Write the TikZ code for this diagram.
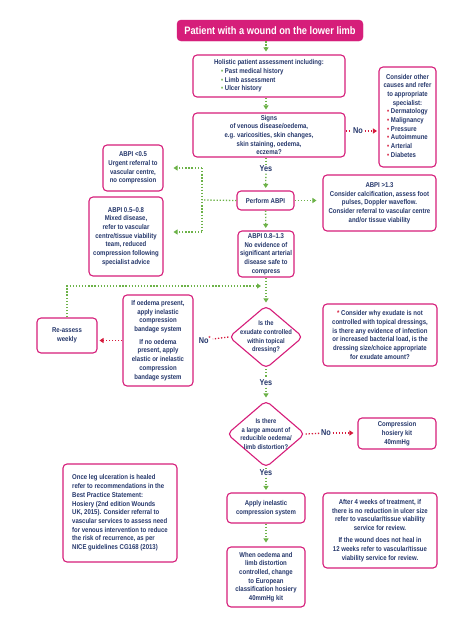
\documentclass[tikz,border=0pt]{standalone}
\usepackage{fontspec}
\setmainfont{Liberation Sans}[FakeStretch=0.86]
\usetikzlibrary{arrows.meta,shapes.geometric}
\definecolor{mag}{RGB}{214,30,122}
\definecolor{navy}{RGB}{38,56,108}
\definecolor{grn}{RGB}{108,178,72}
\definecolor{redd}{RGB}{214,26,60}
\newcommand{\gb}{{\color{grn}\textbullet}\ }
\newcommand{\rb}{{\color{redd}\textbullet}\ }
\tikzset{
  txtfont/.style={font=\bfseries\fontsize{7}{8.7}\selectfont},
  box/.style={draw=mag, line width=1.1pt, rounded corners=4pt, fill=white,
    text=navy, txtfont, align=center, inner sep=0pt},
  dia/.style={draw=mag, line width=1.1pt, diamond, rounded corners=5pt,
    fill=white, inner sep=0pt},
  diatext/.style={text=navy, font=\bfseries\fontsize{6.8}{8.6}\selectfont, align=center, inner sep=0pt},
  title/.style={fill=mag, draw=mag, rounded corners=4pt, text=white,
    font=\bfseries\fontsize{10.8}{12}\selectfont, inner sep=0pt},
  gline/.style={draw=grn, line width=1.3pt, dash pattern=on 1.3pt off 1.8pt},
  garr/.style={gline, -{Triangle[length=4pt,width=5pt]}, shorten >=2.5pt},
  rline/.style={draw=redd, line width=1.3pt, dash pattern=on 1.3pt off 1.8pt},
  rarr/.style={rline, -{Triangle[length=4pt,width=5pt]}, shorten >=2pt},
  lbl/.style={text=navy, font=\bfseries\fontsize{8.5}{10}\selectfont, inner sep=1.5pt}
}
\begin{document}
\begin{tikzpicture}[x=1pt,y=-1pt]
\useasboundingbox[fill=white] (0,0) rectangle (474,627);

% main column
\node[title, minimum width=186pt, minimum height=21pt] (title) at (270,30.5)
  {Patient with a wound on the lower limb};
\node[box, minimum width=152pt, minimum height=42pt] (hol) at (269,76)
  {\begin{tabular}{@{}l@{}}Holistic patient assessment including:\\
  \hspace{7pt}\gb Past medical history\\
  \hspace{7pt}\gb Limb assessment\\
  \hspace{7pt}\gb Ulcer history\end{tabular}};
\node[box, minimum width=152pt, minimum height=44pt] (signs) at (269,135)
  {Signs\\of venous disease/oedema,\\e.g. varicosities, skin changes,\\skin staining, oedema,\\eczema?};
\node[box, minimum width=57pt, minimum height=100pt] (other) at (407.5,117)
  {Consider other\\causes and refer\\to appropriate\\specialist:\\
  \begin{tabular}{@{}l@{}}\rb Dermatology\\\rb Malignancy\\\rb Pressure\\\rb Autoimmune\\\rb Arterial\\\rb Diabetes\end{tabular}};
\node[box, minimum width=57pt, minimum height=19pt] (perform) at (265.5,200.5)
  {Perform ABPI};
\node[box, minimum width=113pt, minimum height=56pt] (abpi13) at (379.5,203)
  {ABPI >1.3\\Consider calcification, assess foot\\pulses, Doppler waveflow.\\Consider referral to vascular centre\\and/or tissue viability};
\node[box, minimum width=60pt, minimum height=46pt] (abpi05) at (133,168)
  {ABPI <0.5\\Urgent referral to\\vascular centre,\\no compression};
\node[box, minimum width=74pt, minimum height=79pt] (abpi058) at (126,236.5)
  {ABPI 0.5–0.8\\Mixed disease,\\refer to vascular\\centre/tissue viability\\team, reduced\\compression following\\specialist advice};
\node[box, minimum width=56pt, minimum height=46pt] (abpi0813) at (266,254)
  {ABPI 0.8–1.3\\No evidence of\\significant arterial\\disease safe to\\compress};

\node[box, minimum width=60pt, minimum height=35pt] (reassess) at (67,335.5)
  {Re-assess\\weekly};
\node[box, minimum width=70pt, minimum height=91pt] (bandage) at (158,340.5)
  {If oedema present,\\apply inelastic\\compression\\bandage system\\[3.9pt]If no oedema\\present, apply\\elastic or inelastic\\compression\\bandage system};
\node[dia, minimum width=74pt, minimum height=63pt,
  label={[diatext]center:Is the\\exudate controlled\\within topical\\dressing?}] (d1) at (266,337) {};
\node[box, minimum width=114pt, minimum height=62pt] (note) at (380,335)
  {{\color{redd}*} Consider why exudate is not\\controlled with topical dressings,\\is there any evidence of infection\\or increased bacterial load, is the\\dressing size/choice appropriate\\for exudate amount?};

\node[dia, minimum width=78pt, minimum height=67pt,
  label={[diatext]center:Is there\\a large amount of\\reducible oedema/\\limb distortion?}] (d2) at (266,434) {};
\node[box, minimum width=78pt, minimum height=31pt] (hosiery) at (397,433.5)
  {Compression\\hosiery kit\\40mmHg};
\node[box, minimum width=78pt, minimum height=30pt] (apply) at (266,508)
  {Apply inelastic\\compression system};
\node[box, minimum width=78pt, minimum height=60pt] (when) at (266,577)
  {When oedema and\\limb distortion\\controlled, change\\to European\\classification hosiery\\40mmHg kit};
\node[box, minimum width=114pt, minimum height=75pt] (after) at (380,530.5)
  {After 4 weeks of treatment, if\\there is no reduction in ulcer size\\refer to vascular/tissue viability\\service for review.\\[3.6pt]If the wound does not heal in\\12 weeks refer to vascular/tissue\\viability service for review.};
\node[box, minimum width=114pt, minimum height=98pt] (healed) at (120,513)
  {\begin{tabular}{@{}l@{}}Once leg ulceration is healed\\refer to recommendations in the\\Best Practice Statement:\\Hosiery (2nd edition Wounds\\UK, 2015). Consider referral to\\vascular services to assess need\\for venous intervention to reduce\\the risk of recurrence, as per\\NICE guidelines CG168 (2013)\end{tabular}};

% labels
\node[lbl] (no1) at (358,131) {No};
\node[lbl] (yes1) at (266,169) {Yes};
\node[lbl] (no2) at (205,340) {No\textsuperscript{\color{redd}*}};
\node[lbl] (yes2) at (266,383) {Yes};
\node[lbl] (no3) at (326,433) {No};
\node[lbl] (yes3) at (266,473) {Yes};

% coordinates
\coordinate (jt) at (202,168);
\coordinate (jm) at (202,200);
\coordinate (jb) at (202,232);
\coordinate (mc) at (266,286);

% connectors
\draw[garr, shorten >=3pt] (title.south -| yes1) -- (hol.north -| yes1);
\draw[garr, shorten >=3pt] (hol.south -| yes1) -- (signs.north -| yes1);
\draw[rline] (signs.east |- no1) -- (no1);
\draw[rarr, shorten >=1.5pt] (no1) -- (other.west |- no1);
\draw[gline] (yes1 |- signs.south) -- (yes1);
\draw[garr] (yes1) -- (perform);
\draw[garr, shorten >=6pt] (perform) -- (abpi13.west |- perform);
\draw[gline] (perform.west) -- (jm);
\draw[gline] (jt) -- (jb);
\draw[garr, shorten >=10pt] (jt) -- (abpi05.east |- jt);
\draw[garr, shorten >=10pt] (jb) -- (abpi058.east |- jb);
\draw[garr] (perform) -- (abpi0813);
\draw[garr] (abpi0813) -- (d1);
\draw[garr, shorten >=5pt] (reassess.north) -- (reassess.north |- mc) -- (mc);
\draw[rline] (d1.west) -- (no2);
\draw[rarr] (bandage.west) -- (reassess.east |- bandage.west);
\draw[gline] (d1.south) -- (yes2);
\draw[garr] (yes2) -- (d2);
\draw[rline] (d2.east) -- (no3);
\draw[rarr, shorten >=4pt] (no3) -- (hosiery.west |- no3);
\draw[gline] (d2.south) -- (yes3);
\draw[garr] (yes3) -- (apply);
\draw[garr, shorten >=4pt] (apply) -- (when);
\end{tikzpicture}
\end{document}
